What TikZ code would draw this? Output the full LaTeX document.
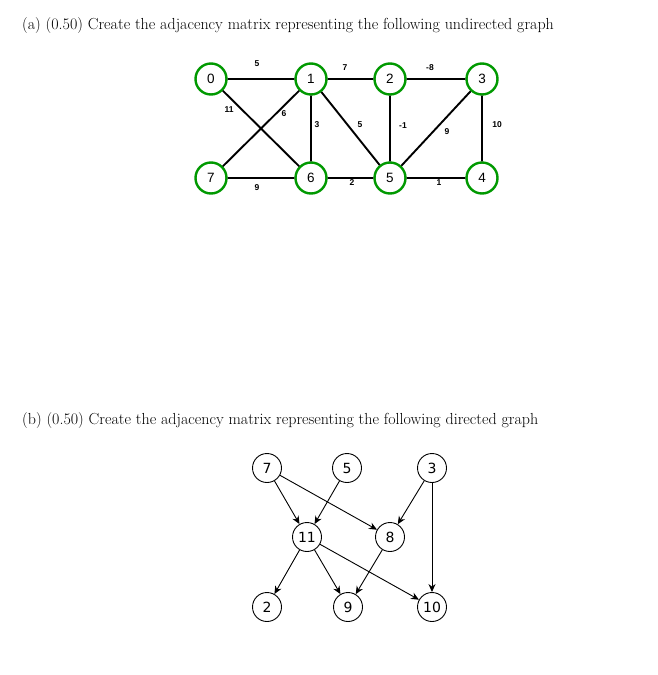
\documentclass[tikz,border=0pt]{standalone}
\usepackage{fontspec}
\newfontfamily\arialf{Liberation Sans}
\newfontfamily\dejaf{DejaVu Sans}
\usetikzlibrary{arrows.meta}
\begin{document}
\begin{tikzpicture}[x=1pt,y=-1pt,
  gn/.style={circle,draw=green!60!black,line width=2.4pt,fill=white,minimum size=31pt,inner sep=0pt,font=\arialf\fontsize{13.5}{13.5}\selectfont},
  ge/.style={line width=1.9pt},
  wl/.style={font=\arialf\bfseries\fontsize{8.5}{9}\selectfont,inner sep=0pt},
  dn/.style={circle,draw,line width=0.9pt,fill=white,minimum size=29pt,inner sep=0pt,font=\dejaf\fontsize{14}{14}\selectfont},
  de/.style={line width=0.9pt,-{Stealth[length=8pt,width=7pt]}},
  captxt/.style={anchor=west,inner sep=0pt,font=\fontsize{16}{18}\selectfont}]
\useasboundingbox[fill=white] (0,0) rectangle (658,675);
\node[captxt] (ca) at (22,26) {(a) (0.50) Create the adjacency matrix representing the following undirected graph};
\node[captxt] (cb) at (22,421) {(b) (0.50) Create the adjacency matrix representing the following directed graph};
% graph a
\node[gn] (a0) at (211,79) {0};
\node[gn] (a1) at (311,79) {1};
\node[gn] (a2) at (390,79) {2};
\node[gn] (a3) at (482,79) {3};
\node[gn] (a7) at (211,178) {7};
\node[gn] (a6) at (311,178) {6};
\node[gn] (a5) at (390,178) {5};
\node[gn] (a4) at (482,178) {4};
\draw[ge] (a0)--(a1) (a1)--(a2) (a2)--(a3) (a0)--(a6) (a7)--(a1) (a1)--(a6) (a1)--(a5) (a2)--(a5) (a5)--(a3) (a3)--(a4) (a7)--(a6) (a6)--(a5) (a5)--(a4);
\node[wl] (l01) at (257,64) {5};
\node[wl] (l12) at (345,68) {7};
\node[wl] (l23) at (430,68) {-8};
\node[wl] (l06) at (229,110) {11};
\node[wl] (l71) at (284,114) {6};
\node[wl] (l16) at (317,125) {3};
\node[wl] (l15) at (360,125) {5};
\node[wl] (l25) at (403,126) {-1};
\node[wl] (l53) at (447,132) {9};
\node[wl] (l34) at (497,125) {10};
\node[wl] (l76) at (257,188) {9};
\node[wl] (l65) at (352,183) {2};
\node[wl] (l54) at (439,183) {1};
% graph b
\node[dn] (b7) at (267,468) {7};
\node[dn] (b5) at (347,468) {5};
\node[dn] (b3) at (432,468) {3};
\node[dn] (b11) at (307,537) {11};
\node[dn] (b8) at (390,537) {8};
\node[dn] (b2) at (267,607) {2};
\node[dn] (b9) at (348,607) {9};
\node[dn] (b10) at (432,607) {10};
\draw[de] (b7)--(b11);
\draw[de] (b7)--(b8);
\draw[de] (b5)--(b11);
\draw[de] (b3)--(b8);
\draw[de] (b3)--(b10);
\draw[de] (b11)--(b2);
\draw[de] (b11)--(b9);
\draw[de] (b11)--(b10);
\draw[de] (b8)--(b9);
\end{tikzpicture}
\end{document}
